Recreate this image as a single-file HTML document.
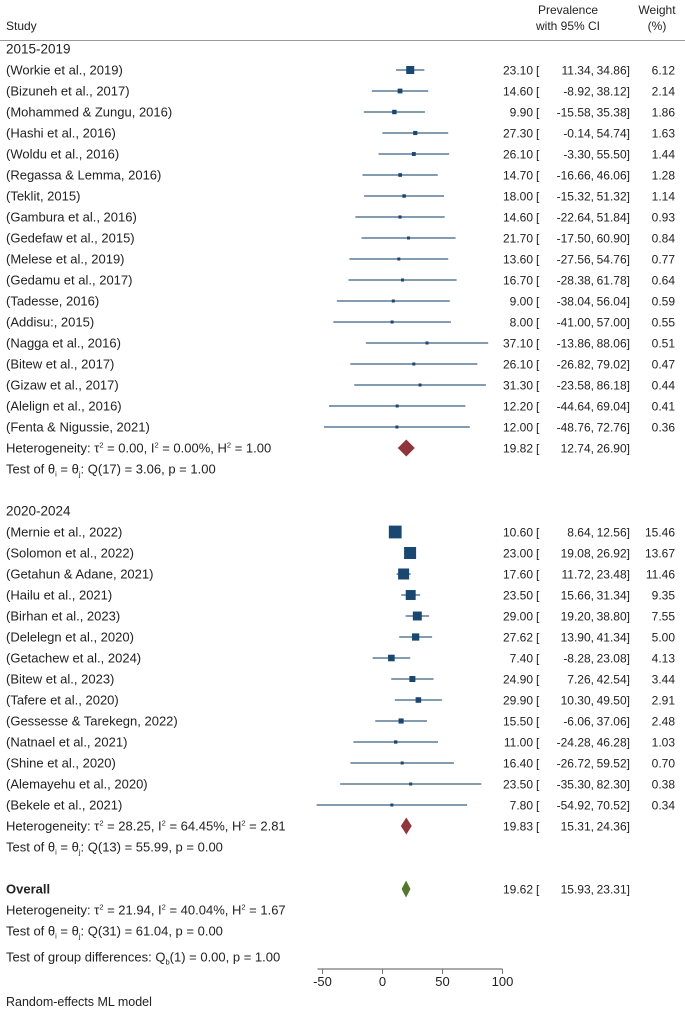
<!DOCTYPE html>
<html><head><meta charset="utf-8"><style>
html,body{margin:0;padding:0;background:#fff}
svg{display:block;font-family:"Liberation Sans",Arial,sans-serif}
</style></head><body>
<svg id="plot" width="685" height="1011" viewBox="0 0 685 1011" xmlns="http://www.w3.org/2000/svg">
<g id="hdr" font-size="12" fill="#222">
<text x="6" y="30">Study</text>
<text x="568" y="14" text-anchor="middle">Prevalence</text>
<text x="568" y="30" text-anchor="middle">with 95% CI</text>
<text x="657" y="14" text-anchor="middle">Weight</text>
<text x="657" y="30" text-anchor="middle">(%)</text>
<line x1="0" x2="685" y1="40.5" y2="40.5" stroke="#999" stroke-width="1"/>
</g>
<g id="rows"></g>
<g id="axis"></g>
</svg>
<script>
const studies1 = ["(Workie et al., 2019)","(Bizuneh et al., 2017)","(Mohammed & Zungu, 2016)","(Hashi et al., 2016)","(Woldu et al., 2016)","(Regassa & Lemma, 2016)","(Teklit, 2015)","(Gambura et al., 2016)","(Gedefaw et al., 2015)","(Melese et al., 2019)","(Gedamu et al., 2017)","(Tadesse, 2016)","(Addisu:, 2015)","(Nagga et al., 2016)","(Bitew et al., 2017)","(Gizaw et al., 2017)","(Alelign et al., 2016)","(Fenta & Nigussie, 2021)"];
const est1 = [23.10,14.60,9.90,27.30,26.10,14.70,18.00,14.60,21.70,13.60,16.70,9.00,8.00,37.10,26.10,31.30,12.20,12.00];
const lo1 = [11.34,-8.92,-15.58,-0.14,-3.30,-16.66,-15.32,-22.64,-17.50,-27.56,-28.38,-38.04,-41.00,-13.86,-26.82,-23.58,-44.64,-48.76];
const hi1 = [34.86,38.12,35.38,54.74,55.50,46.06,51.32,51.84,60.90,54.76,61.78,56.04,57.00,88.06,79.02,86.18,69.04,72.76];
const w1 = [6.12,2.14,1.86,1.63,1.44,1.28,1.14,0.93,0.84,0.77,0.64,0.59,0.55,0.51,0.47,0.44,0.41,0.36];
const studies2 = ["(Mernie et al., 2022)","(Solomon et al., 2022)","(Getahun & Adane, 2021)","(Hailu et al., 2021)","(Birhan et al., 2023)","(Delelegn et al., 2020)","(Getachew et al., 2024)","(Bitew et al., 2023)","(Tafere et al., 2020)","(Gessesse & Tarekegn, 2022)","(Natnael et al., 2021)","(Shine et al., 2020)","(Alemayehu et al., 2020)","(Bekele et al., 2021)"];
const est2 = [10.60,23.00,17.60,23.50,29.00,27.62,7.40,24.90,29.90,15.50,11.00,16.40,23.50,7.80];
const lo2 = [8.64,19.08,11.72,15.66,19.20,13.90,-8.28,7.26,10.30,-6.06,-24.28,-26.72,-35.30,-54.92];
const hi2 = [12.56,26.92,23.48,31.34,38.80,41.34,23.08,42.54,49.50,37.06,46.28,59.52,82.30,70.52];
const w2 = [15.46,13.67,11.46,9.35,7.55,5.00,4.13,3.44,2.91,2.48,1.03,0.70,0.38,0.34];
const pooledEst = [19.82,19.83,19.62];
const pooledLo = [12.74,15.31,15.93];
const pooledHi = [26.90,24.36,23.31];
const ticks = [-50,0,50,100];

const NS="http://www.w3.org/2000/svg";
const rows=document.getElementById('rows');
const axisG=document.getElementById('axis');
const X0=382.5, SC=1.2, Y0=49, R=21;
function xs(v){return X0+v*SC;}
function ys(i){return Y0+i*R;}
function mk(tag,attrs,parent){const e=document.createElementNS(NS,tag);for(const k in attrs)e.setAttribute(k,attrs[k]);(parent||rows).appendChild(e);return e;}
function txt(x,y,s,opts){const t=mk('text',Object.assign({x:x,y:y+4.5,'font-size':13,fill:'#222'},opts||{}));t.textContent=s;return t;}
function f(v){return v.toFixed(2);}
function numCols(i,e,l,h,w){
  let t=txt(533,ys(i),f(e),{'text-anchor':'end','font-size':12});
  
  
  t=txt(536,ys(i),'[',{'font-size':12});
  
  
  t=txt(594,ys(i),f(l)+',',{'text-anchor':'end','font-size':12});
  
  
  t=txt(630,ys(i),f(h)+']',{'text-anchor':'end','font-size':12});
  
  
  if(w!==null){
    t=txt(675,ys(i),f(w),{'text-anchor':'end','font-size':12});
    
    
  }
}
function studyRow(i,name,e,l,h,w){
  const y=ys(i);
  let t=txt(6,y,name);
  
  
  const ln=mk('line',{x1:xs(l),x2:xs(h),y1:y,y2:y,stroke:'#1a476f','stroke-width':1.3,'stroke-opacity':0.85});
  
  
  const s=Math.max(3,3.25*Math.sqrt(w));
  const sq=mk('rect',{x:xs(e)-s/2,y:y-s/2,width:s,height:s,fill:'#1a476f'});
  
  
  numCols(i,e,l,h,w);
}
function diamond(i,k,color){
  const y=ys(i),c=xs(pooledEst[k]),a=xs(pooledLo[k]),b=xs(pooledHi[k]),hh=8.5;
  const p=mk('polygon',{points:`${a},${y} ${c},${y-hh} ${b},${y} ${c},${y+hh}`,fill:color});
  
  
  numCols(i,pooledEst[k],pooledLo[k],pooledHi[k],null);
}
function richText(i,html,name,extraY){
  const t=mk('text',{x:6,y:ys(i)+4.5+(extraY||0),'font-size':13,fill:'#222'});
  t.innerHTML=html;
  
  
}
const sup=s=>`<tspan baseline-shift="5" font-size="7.5">${s}</tspan>`;
const sub=s=>`<tspan baseline-shift="-3" font-size="7.5">${s}</tspan>`;

let t=txt(6,ys(0),'2015-2019',{'font-size':13.5});


studies1.forEach((n,j)=>studyRow(1+j,n,est1[j],lo1[j],hi1[j],w1[j]));
diamond(19,0,'#90353b');
richText(19,`Heterogeneity: τ${sup('2')} = 0.00, I${sup('2')} = 0.00%, H${sup('2')} = 1.00`,'heterogeneity-2015-2019');
richText(20,`Test of θ${sub('i')} = θ${sub('j')}: Q(17) = 3.06, p = 1.00`,'homogeneity-test-2015-2019');
t=txt(6,ys(22),'2020-2024',{'font-size':13.5});


studies2.forEach((n,j)=>studyRow(23+j,n,est2[j],lo2[j],hi2[j],w2[j]));
diamond(37,1,'#90353b');
richText(37,`Heterogeneity: τ${sup('2')} = 28.25, I${sup('2')} = 64.45%, H${sup('2')} = 2.81`,'heterogeneity-2020-2024');
richText(38,`Test of θ${sub('i')} = θ${sub('j')}: Q(13) = 55.99, p = 0.00`,'homogeneity-test-2020-2024');
t=txt(6,ys(40),'Overall',{'font-weight':'bold'});


diamond(40,2,'#55752f');
richText(41,`Heterogeneity: τ${sup('2')} = 21.94, I${sup('2')} = 40.04%, H${sup('2')} = 1.67`,'heterogeneity-overall');
richText(42,`Test of θ${sub('i')} = θ${sub('j')}: Q(31) = 61.04, p = 0.00`,'homogeneity-test-overall');
richText(43,`Test of group differences: Q${sub('b')}(1) = 0.00, p = 1.00`,'group-differences-test',5);

const AY=969;
let al=mk('line',{x1:xs(ticks[0])-5,x2:xs(ticks[ticks.length-1]),y1:AY,y2:AY,stroke:'#777','stroke-width':1.2},axisG);


ticks.forEach(v=>{
  const tk=mk('line',{x1:xs(v),x2:xs(v),y1:AY,y2:AY+5,stroke:'#777','stroke-width':1},axisG);
  
  
  const tl=mk('text',{x:xs(v),y:AY+17,'font-size':13,fill:'#222','text-anchor':'middle'},axisG);
  tl.textContent=String(v);
  
  
});
const fn=mk('text',{x:6,y:1006,'font-size':12.5,fill:'#222'},axisG);
fn.textContent='Random-effects ML model';


</script>
</body></html>
